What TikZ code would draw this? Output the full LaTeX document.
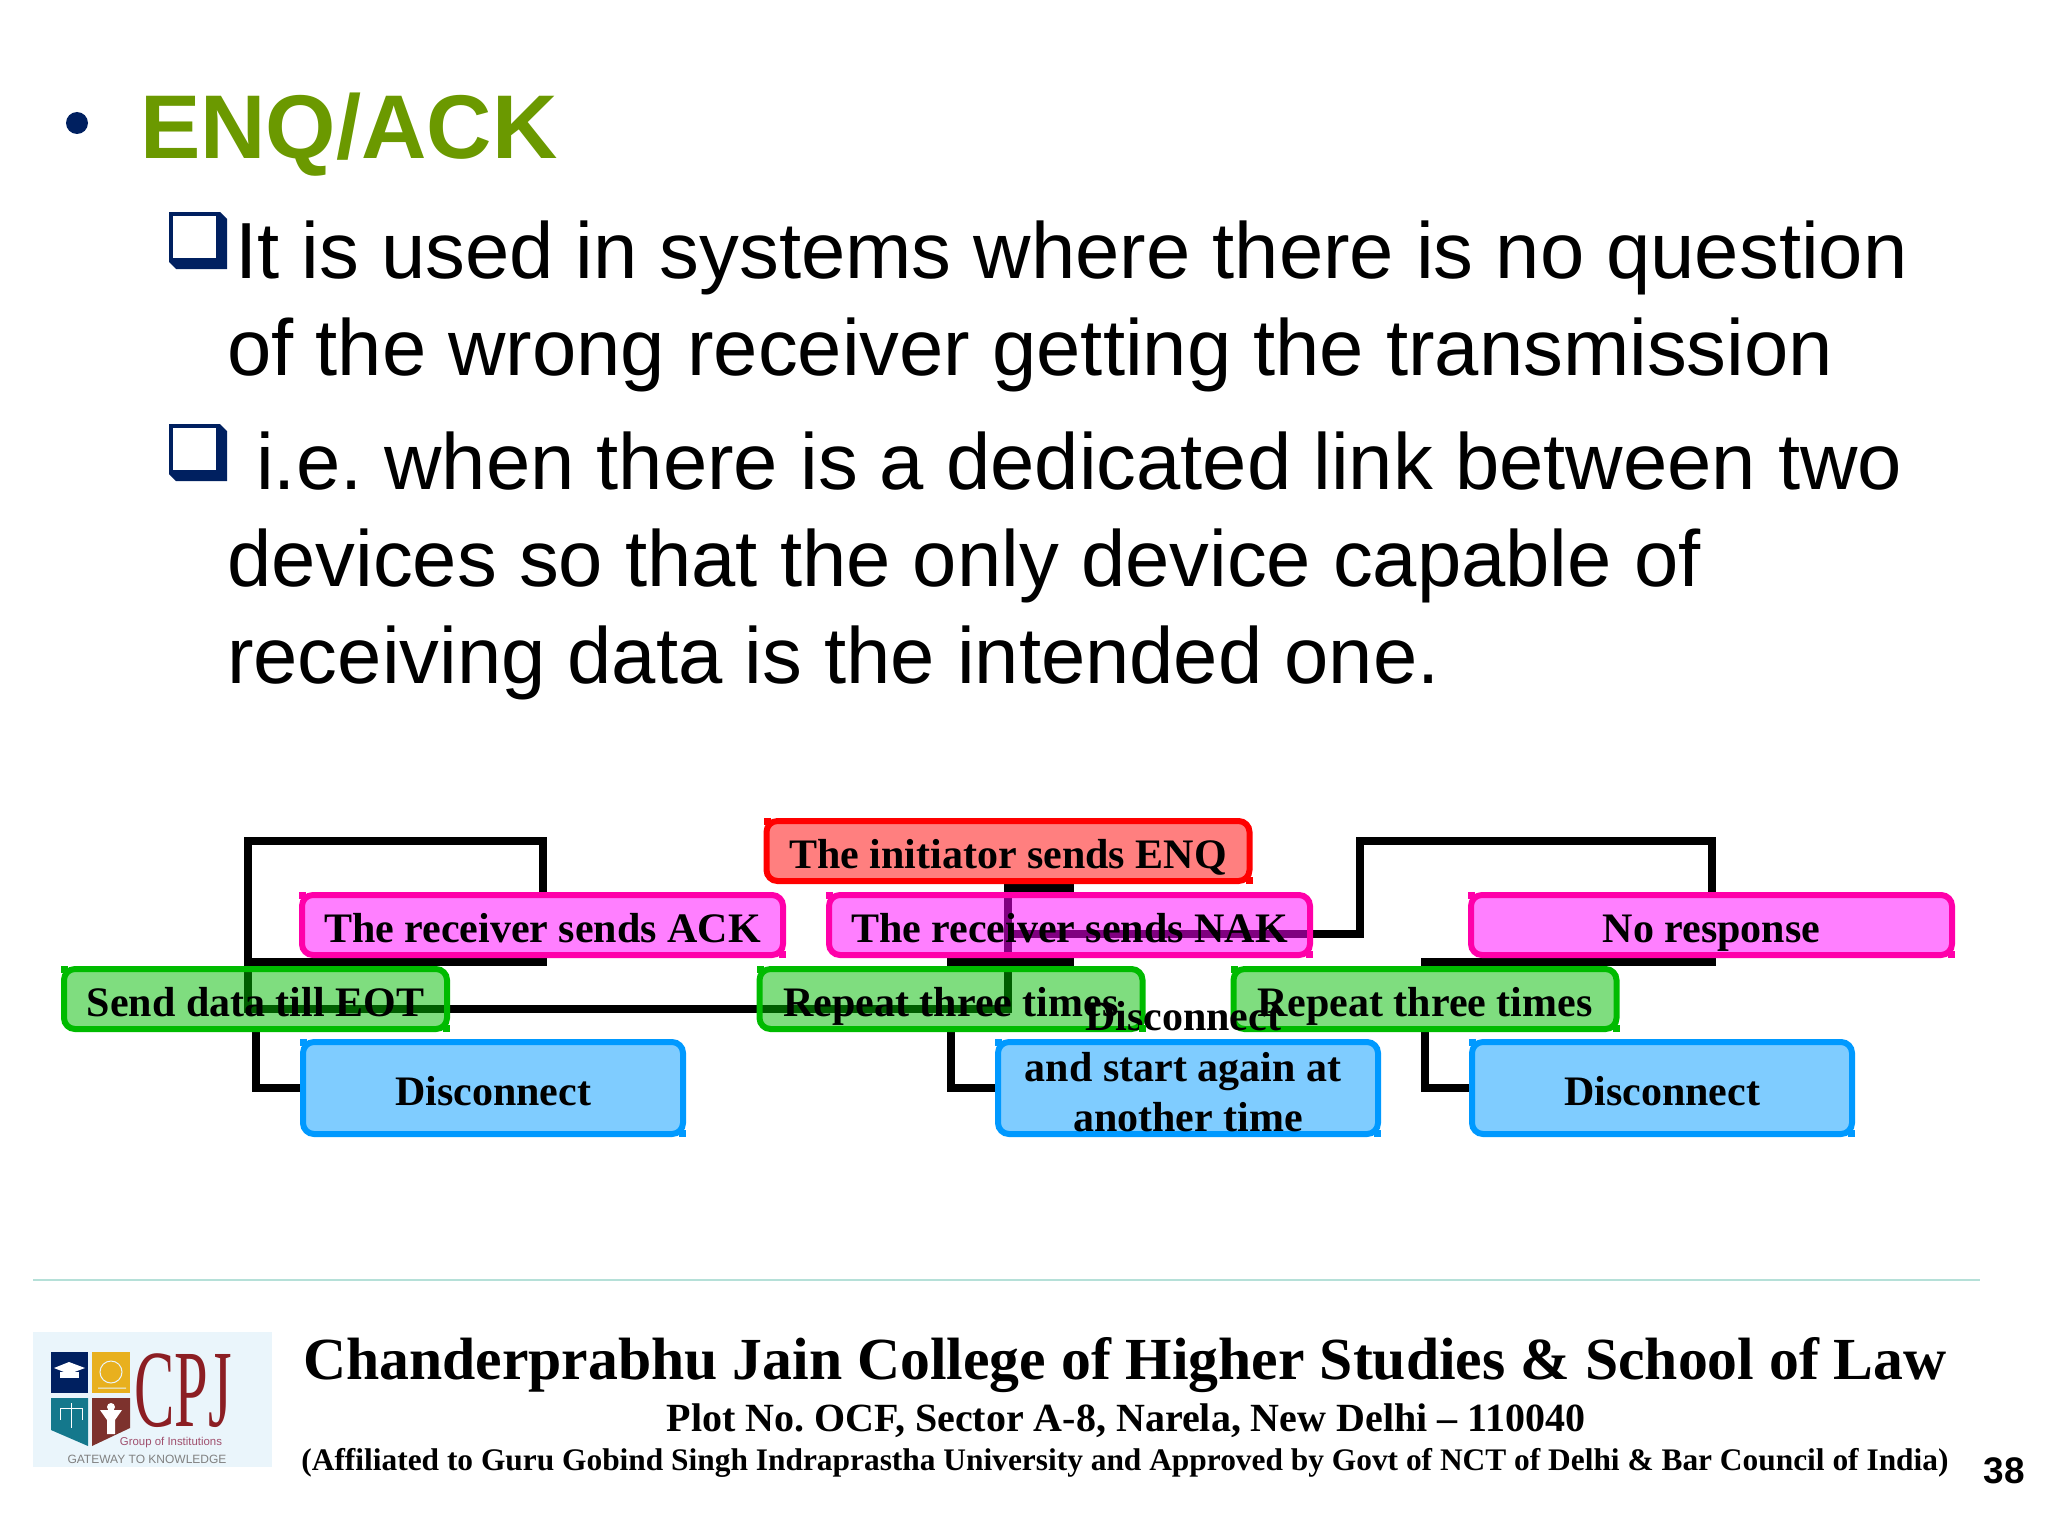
\documentclass[tikz,border=0pt]{standalone}
\usepackage{fontspec}
\setmainfont{Liberation Serif}
\setsansfont{Liberation Sans}
\usetikzlibrary{positioning, calc, backgrounds}
\definecolor{navy}{RGB}{0,32,96}
\definecolor{headgreen}{RGB}{107,153,0}
\definecolor{redline}{RGB}{255,0,0}
\definecolor{pinkline}{RGB}{255,0,170}
\definecolor{pinkfill}{RGB}{255,0,255}
\definecolor{greenline}{RGB}{0,187,0}
\definecolor{blueline}{RGB}{0,153,255}
\definecolor{cpjred}{RGB}{140,30,35}
\definecolor{footline}{RGB}{181,224,216}
\definecolor{logoback}{RGB}{234,245,251}
\definecolor{logoyellow}{RGB}{232,176,30}
\definecolor{logoteal}{RGB}{20,120,140}
\definecolor{logobrown}{RGB}{125,50,45}
\definecolor{logopink}{RGB}{160,80,110}
\newcommand{\sqbullet}[2]{%
	\fill[navy] (#1,#2) -- ++(51,0) -- ++(7,7) -- ++(0,50) -- ++(-51,0) -- ++(-7,-7) -- cycle;
	\fill[white] ($(#1,#2)+(4,4)$) rectangle ++(43,42);}
\begin{document}
\frenchspacing
\begin{tikzpicture}[x=1pt, y=-1pt,
	box/.style={rounded corners=11pt, line width=6pt, outer sep=0pt, inner sep=0pt, fill opacity=.5, draw opacity=1, text opacity=1, font=\fontsize{42}{50}\bfseries, text height=35pt, text depth=0pt, minimum height=60pt},
	redbox/.style={box, draw=redline, fill=redline, minimum width=483pt},
	pinkbox/.style={box, draw=pinkline, fill=pinkfill, minimum width=481pt},
	greenbox/.style={box, draw=greenline, fill=greenline, minimum width=383pt},
	bluebox/.style={box, draw=blueline, fill=blueline, minimum width=380pt, minimum height=92pt},
	conn/.style={line width=8pt},
	body/.style={anchor=base west, inner sep=0pt, font=\sffamily\fontsize{79.6}{96}\selectfont},
	foot/.style={anchor=base, inner sep=0pt, font=\bfseries}]
	\useasboundingbox (0,0) rectangle (2048,1536);
	% heading and the text
	\fill[navy] (77,123) circle (11);
	\node[body, text=headgreen, font=\sffamily\bfseries\fontsize{90.5}{96}\selectfont] (head) at (140,159) {ENQ/ACK};
	\sqbullet{169}{212}
	\sqbullet{169}{424}
	\node[body] (l1) at (235,278) {It is used in systems where there is no question};
	\node[body] (l2) at (227,375) {of the wrong receiver getting the transmission};
	\node[body] (l3) at (256,489) {i.e. when there is a dedicated link between two};
	\node[body] (l4) at (227,586) {devices so that the only device capable of};
	\node[body] (l5) at (227,683) {receiving data is the intended one.};
	% boxes
	\node[redbox] (enq) at (1008,851) {The initiator sends ENQ};
	\node[pinkbox] (ack) at (542.5,925) {The receiver sends ACK};
	\node[pinkbox] (nak) [right=46pt of ack] {The receiver sends NAK};
	\node[pinkbox] (none) [right=161pt of nak] {No response};
	\node[greenbox] (send) at (255.5,999) {Send data till EOT};
	\node[greenbox] (rep1) at (951,999) {Repeat three times};
	\node[greenbox] (rep2) at (1425,999) {Repeat three times};
	\node[bluebox] (disc1) at (493,1088) {Disconnect};
	\node[bluebox] (disc2) at (1188,1088) {};
	\node[bluebox] (disc3) at (1662,1088) {Disconnect};
	\node[inner sep=0pt, align=center, font=\fontsize{42}{50.5}\bfseries] (disc2txt) at (1183,1067) {Disconnect\\and start again at\\\hspace*{10pt}another time};
	% small corners of the boxes
	\foreach \n/\c in {enq/redline, ack/pinkline, nak/pinkline, none/pinkline, send/greenline, rep1/greenline, rep2/greenline, disc1/blueline, disc2/blueline, disc3/blueline} {
		\fill[\c] ($(\n.north west)+(-3,-3)$) rectangle ++(7,7);
		\fill[\c] ($(\n.south east)+(3,3)$) rectangle ++(-7,-7);
	}
	\coordinate (ackleft) at (248,1009);
	\coordinate (acktop) at (248,841);
	\coordinate (nakright) at (1360,934);
	\coordinate (nonetop) at (1360,841);
	\begin{scope}[on background layer]
		\draw[conn] (enq.south) |- (ackleft) -- (acktop) -| (ack.north);
		\draw[conn] (enq.south) |- (nakright) -- (nonetop) -| (none.north);
		\draw[conn] (enq.south) -- ++(0,7) -| (nak.north);
		\draw[conn] (ack.south) -- ++(0,7) -| (send.north);
		\draw[conn] (nak.south) -- ++(0,7) -| (rep1.north);
		\draw[conn] (none.south) -- ++(0,7) -| (rep2.north);
		\draw[conn] (send.south) |- (disc1.west);
		\draw[conn] (rep1.south) |- (disc2.west);
		\draw[conn] (rep2.south) |- (disc3.west);
	\end{scope}
	% footer
	\draw[line width=1.5pt, footline] (33,1280) -- (1980,1280);
	\fill[logoback] (33,1332) rectangle (272,1467);
	\fill[navy] (51,1352) rectangle (88,1393);
	\fill[logoyellow] (92,1352) rectangle (130,1393);
	\fill[logoteal] (51,1398) -- (88,1398) -- (88,1446) -- (51,1430) -- cycle;
	\fill[logobrown] (92,1398) -- (130,1398) -- (130,1428) -- (92,1446) -- cycle;
	\fill[white] (54,1368) -- (69,1362) -- (85,1368) -- (69,1374) -- cycle;
	\fill[white] (60,1372) -- (79,1372) -- (79,1378) -- (60,1378) -- cycle;
	\draw[white, line width=1pt] (71,1403) -- (71,1428) (60,1408) -- (82,1408) (60,1408) -- (60,1420) (82,1408) -- (82,1420);
	\fill[white] (111,1407) circle (4);
	\fill[white] (100,1410) -- (122,1410) -- (115,1420) -- (115,1434) -- (107,1434) -- (107,1420) -- cycle;
	\draw[logoback, line width=1pt] (111,1372) circle (11) (98,1388) -- (126,1388);
	\node[inner sep=0pt, text=cpjred, xscale=.55, font=\fontsize{110}{110}\selectfont] (cpj) at (183,1391) {CPJ};
	\node[inner sep=0pt, text=logopink, font=\sffamily\fontsize{11.4}{12}\selectfont] (group) at (171,1443) {Group of Institutions};
	\node[inner sep=0pt, text=gray, font=\sffamily\fontsize{12}{13}\selectfont] (gate) at (147,1459) {GATEWAY TO KNOWLEDGE};
	\node[foot, font=\bfseries\fontsize{59.7}{60}\selectfont] (college) at (1125,1379) {Chanderprabhu Jain College of Higher Studies \& School of Law};
	\node[foot, font=\bfseries\fontsize{40}{40}\selectfont] (plot) at (1126,1431) {Plot No. OCF, Sector A-8, Narela, New Delhi -- 110040};
	\node[foot, font=\bfseries\fontsize{31.4}{34}\selectfont] (aff) at (1125,1470) {(Affiliated to Guru Gobind Singh Indraprastha University and Approved by Govt of NCT of Delhi \& Bar Council of India)};
	\node[foot, font=\sffamily\bfseries\fontsize{37}{40}\selectfont] (page) at (2004,1483) {38};
\end{tikzpicture}
\end{document}
